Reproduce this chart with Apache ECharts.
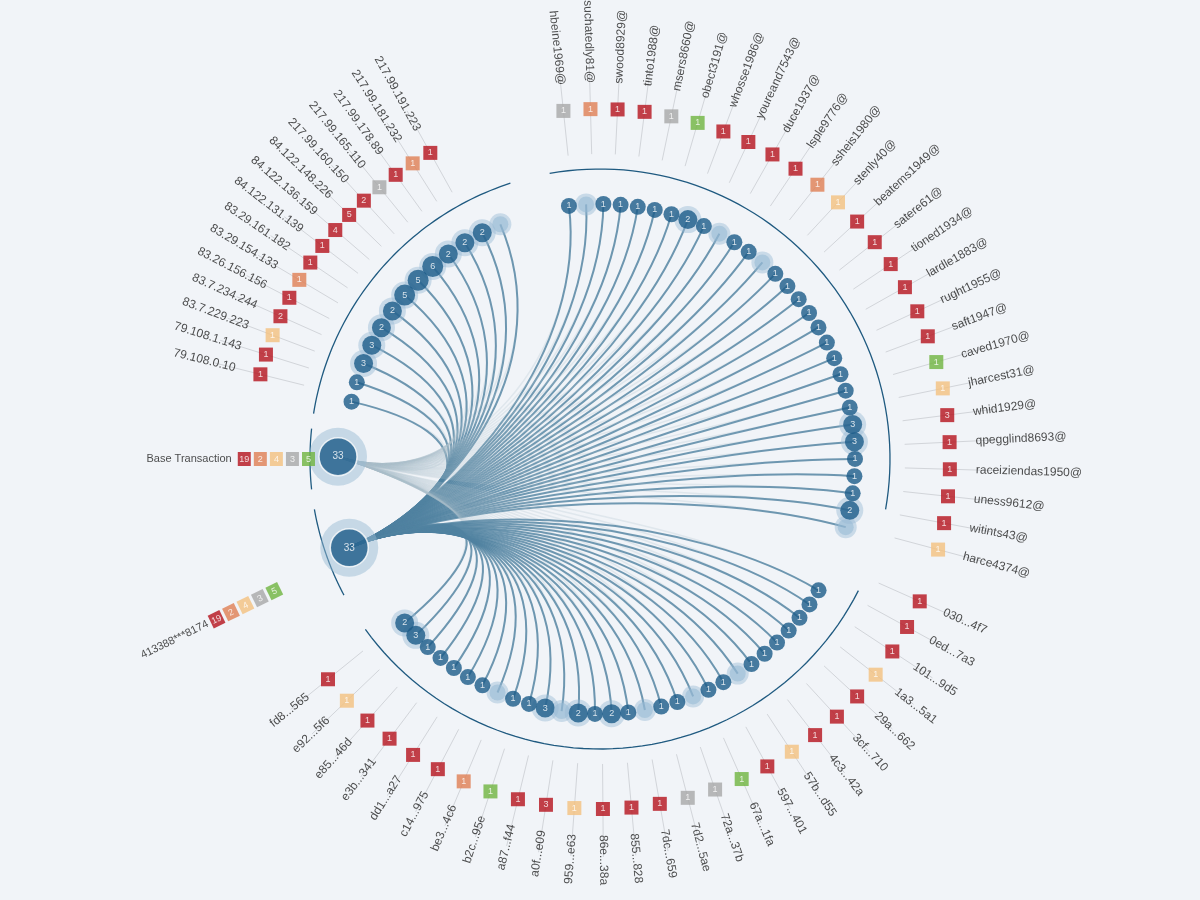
<!DOCTYPE html>
<html><head><meta charset="utf-8">
<script src="https://cdn.jsdelivr.net/npm/echarts@6/dist/echarts.min.js"></script>
<style>html,body{margin:0;background:#f1f4f8}#c{width:1200px;height:900px}</style>
</head><body><div id="c"></div>
<script>
// ---- data ----
const leftNodes=[1,1,3,3,2,2,5,5,6,2,2,2,0];
const rightNodes=[1,0,1,1,1,1,1,2,1,0,1,1,0,1,1,1,1,1,1,1,1,1,1,3,3,1,1,1,2,0];
const bottomNodes=[2,3,1,1,1,1,1,0,1,1,3,0,2,1,2,1,0,1,1,0,1,1,0,1,1,1,1,1,1,1];
const leftLabels=['79.108.0.10','79.108.1.143','83.7.229.223','83.7.234.244','83.26.156.156','83.29.154.133','83.29.161.182','84.122.131.139','84.122.136.159','84.122.148.226','217.99.160.150','217.99.165.110','217.99.178.89','217.99.181.232','217.99.191.223'];
const leftCat=['r','r','y','r','r','o','r','r','r','r','r','k','r','o','r'];
const leftCnt=[1,1,1,2,1,1,1,1,4,5,2,1,1,1,1];
const rightLabels=['hbeine1969@','suchatedly81@','swood8929@','tinto1988@','msers8660@','obect3191@','whosse1986@','youreand7543@','duce1937@','lsple9776@','ssheis1980@','stenly40@','beatems1949@','satere61@','tioned1934@','lardle1883@','rught1955@','saft1947@','caved1970@','jharcest31@','whid1929@','qpegglind8693@','raceiziendas1950@','uness9612@','witints43@','harce4374@'];
const rightCat=['k','o','r','r','k','g','r','r','r','r','o','y','r','r','r','r','r','r','g','y','r','r','r','r','r','y'];
const rightCnt=[1,1,1,1,1,1,1,1,1,1,1,1,1,1,1,1,1,1,1,1,3,1,1,1,1,1];
const bottomLabels=['030...4f7','0ed...7a3','101...9d5','1a3...5a1','29a...662','3cf...710','4c3...42a','57b...d55','597...401','67a...1fa','72a...37b','7d2...5ae','7dc...659','855...828','86e...38a','959...e63','a0f...e09','a87...f44','b2c...95e','be3...4c6','c14...975','dd1...a27','e3b...341','e85...46d','e92...5f6','fd8...565'];
const bottomCat=['r','r','r','y','r','r','r','y','r','g','k','k','r','r','r','y','r','r','g','o','r','r','r','r','y','r'];
const bottomCnt=[1,1,1,1,1,1,1,1,1,1,1,1,1,1,1,1,3,1,1,1,1,1,1,1,1,1];
const baseNames=['Base Transaction','413388***8174'];
const baseCounts=[19,2,4,3,5];
const baseCats=['r','o','y','k','g'];

// ---- layout helpers ----
const COL={r:'#b5121b',o:'#e07e52',y:'#f4c07e',k:'#a8a8a8',g:'#6fb43f'};
function spread(n,a,b){const o=[];for(let i=0;i<n;i++)o.push(n===1?a:a+(b-a)*i/(n-1));return o;}
const NR=255;
const nodeAng=[].concat(spread(leftNodes.length,167,113),spread(rightNodes.length,97,-15.5),spread(bottomNodes.length,220,329));
const nodeVal=[].concat(leftNodes,rightNodes,bottomNodes);
const labAng=[].concat(spread(leftLabels.length,166,119),spread(rightLabels.length,96,-15),spread(bottomLabels.length,336,219));
const labTxt=[].concat(leftLabels,rightLabels,bottomLabels);
const labCat=[].concat(leftCat,rightCat,bottomCat);
const labCnt=[].concat(leftCnt,rightCnt,bottomCnt);
const baseR=[262,266], baseA=[179.5,199.5];
const arcSpans=[[171,108],[100,-10],[-27,-144],[174,186],[190,208]];

const nodeData=nodeVal.map((v,i)=>({value:[NR,nodeAng[i]],symbolSize:v===0?16:(v>=5?21:(v>=2?19:16)),
  itemStyle:{color:v===0?'rgba(150,185,212,0.7)':'#1c5b88'},label:{show:v>0,formatter:String(v)}}));
const haloData=nodeVal.map((v,i)=>({value:[NR,nodeAng[i]],symbolSize:v>=2?27:(v===0?22:0)}));
const boxData=labAng.map((a,i)=>({value:[350,a],itemStyle:{color:COL[labCat[i]]},label:{formatter:String(labCnt[i])}}));
const txtData=labAng.map((a,i)=>{const n=(a%360+360)%360;const left=n>90&&n<270;
  return {value:[376,a],label:{formatter:labTxt[i],rotate:left?a-180:a,align:left?'right':'left'}};});
const rich={};Object.keys(COL).forEach(k=>rich[k]={backgroundColor:COL[k],color:'#fff',fontSize:9,width:13,height:13,align:'center',padding:[1,0,0,0]});
const boxes=baseCounts.map((c,i)=>'{'+baseCats[i]+'|'+c+'}').join(' ');

const chart=echarts.init(document.getElementById('c'));
chart.setOption({
 backgroundColor:'#f1f4f8',
 polar:{center:['50%',459],radius:420},
 radiusAxis:{min:0,max:420,show:false},
 angleAxis:{min:0,max:360,startAngle:0,clockwise:false,show:false},
 series:[
  {type:'custom',coordinateSystem:'polar',silent:true,z:1,data:[[0,0]],
   renderItem:function(p,api){
     const ch=arcSpans.map(s=>{const pts=[];const n=60;for(let k=0;k<=n;k++)pts.push(api.coord([290,s[0]+(s[1]-s[0])*k/n]));
       return {type:'polyline',shape:{points:pts},style:{stroke:'#1f5a80',lineWidth:1.3,fill:null}};});
     labAng.forEach(a=>{const p1=api.coord([305,a]),p2=api.coord([398,a]);ch.push({type:'line',shape:{x1:p1[0],y1:p1[1],x2:p2[0],y2:p2[1]},style:{stroke:'#d2d5da',lineWidth:1}});});
     return {type:'group',children:ch};
   }},
  {type:'custom',coordinateSystem:'polar',silent:true,z:2,data:nodeAng.map(a=>[NR,a]),
   renderItem:function(p,api){
     const a=nodeAng[p.dataIndex];const ch=[];
     for(let s=0;s<2;s++){
      const s0=api.coord([baseR[s],baseA[s]]),c1=api.coord([140,196]),c2=api.coord([110,a]),t=api.coord([NR,a]);
      ch.push({type:'bezierCurve',shape:{x1:s0[0],y1:s0[1],cpx1:c1[0],cpy1:c1[1],cpx2:c2[0],cpy2:c2[1],x2:t[0],y2:t[1]},
        style:{stroke:s===1?'rgba(80,130,160,0.8)':'rgba(170,190,205,0.25)',lineWidth:s===1?2:1.5,fill:null}});
     }
     return {type:'group',children:ch};
   }},
  {type:'scatter',coordinateSystem:'polar',z:3,silent:true,data:haloData,itemStyle:{color:'rgba(150,185,212,0.55)'}},
  {type:'scatter',coordinateSystem:'polar',z:4,data:nodeData,label:{position:'inside',color:'#fff',fontSize:9,fontFamily:'Arial'}},
  {type:'scatter',coordinateSystem:'polar',z:3,data:[[baseR[0],baseA[0]],[baseR[1],baseA[1]]],symbolSize:58,itemStyle:{color:'rgba(150,185,212,0.6)'}},
  {type:'scatter',coordinateSystem:'polar',z:4,data:[
    {value:[baseR[0],baseA[0]],label:{show:true,position:'inside',formatter:'33'}},
    {value:[baseR[1],baseA[1]],label:{show:true,position:'inside',formatter:'33'}}],
   symbolSize:38,itemStyle:{color:'#1c5b88',borderColor:'#fff',borderWidth:1.5},label:{color:'#fff',fontSize:10}},
  {type:'scatter',coordinateSystem:'polar',z:5,symbolSize:0,data:[
    {value:[285,180],label:{formatter:baseNames[0]+'  '+boxes,rotate:0,align:'right'}},
    {value:[345,202],label:{formatter:baseNames[1]+' '+boxes,rotate:26,align:'right'}}],
   label:{show:true,position:'inside',color:'#222',fontSize:11,fontFamily:'Arial',rich:rich}},
  {type:'scatter',coordinateSystem:'polar',z:5,symbol:'rect',symbolSize:14,data:boxData,
   label:{show:true,position:'inside',color:'#fff',fontSize:9}},
  {type:'scatter',coordinateSystem:'polar',z:5,symbolSize:0,data:txtData,
   label:{show:true,position:'inside',color:'#222',fontSize:12,fontFamily:'Arial',verticalAlign:'middle'}}
 ]
});
</script></body></html>
